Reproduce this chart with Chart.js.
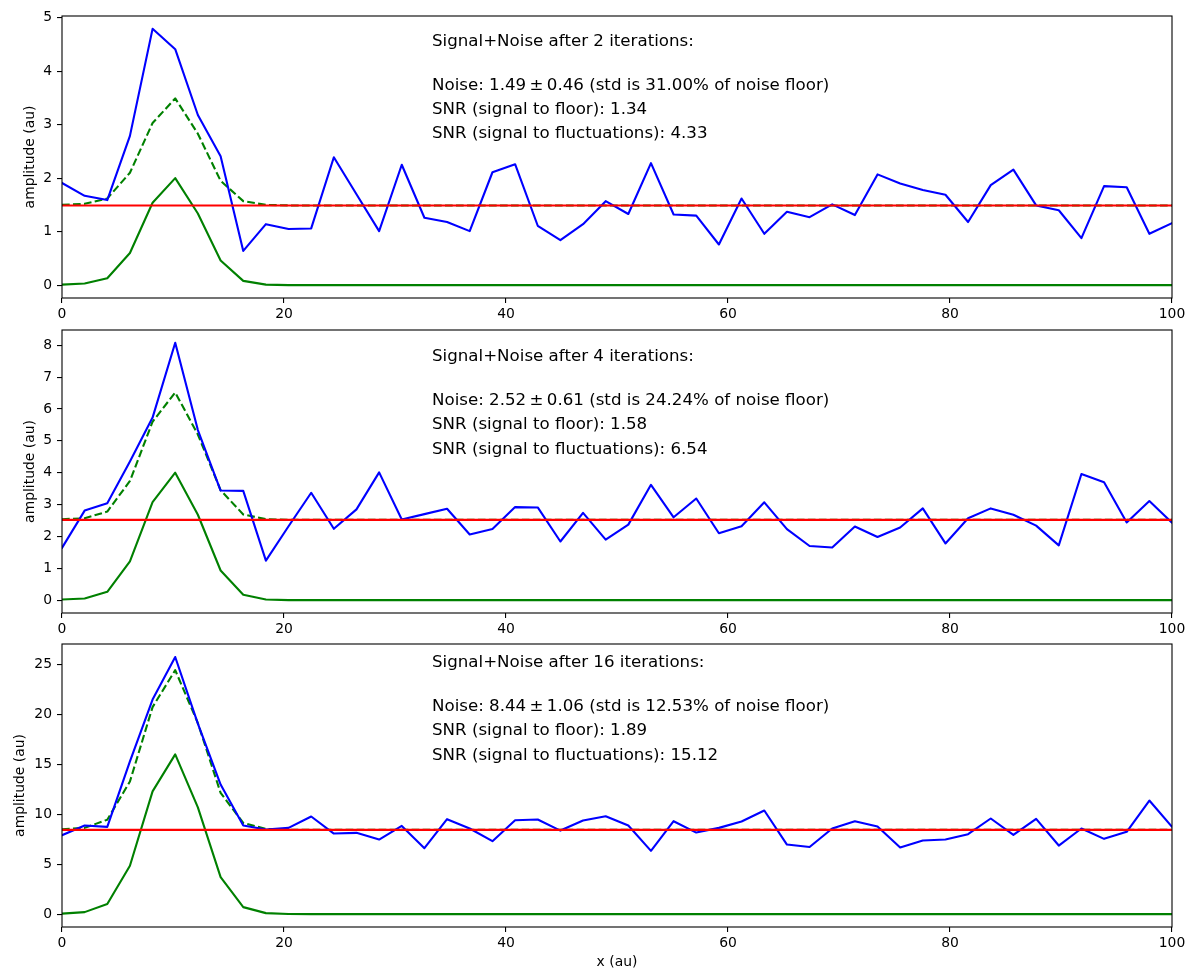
<!DOCTYPE html>
<html><head><meta charset="utf-8">
<script src="https://cdn.jsdelivr.net/npm/chart.js@4.4.1/dist/chart.umd.min.js"></script>
<style>
html,body{margin:0;padding:0;background:#fff;}
#wrap{position:relative;width:1200px;height:974px;overflow:hidden;background:#fff;}
canvas{position:absolute;left:0;}
</style></head><body>
<div id="wrap">
<canvas id="c1" style="top:0px"></canvas>
<canvas id="c2" style="top:320px"></canvas>
<canvas id="c3" style="top:640px"></canvas>
</div>
<script>
// ---------- DATA ----------
const xValues = [0, 2.04, 4.08, 6.12, 8.16, 10.20, 12.24, 14.29, 16.33, 18.37,
  20.41, 22.45, 24.49, 26.53, 28.57, 30.61, 32.65, 34.69, 36.73, 38.78,
  40.82, 42.86, 44.90, 46.94, 48.98, 51.02, 53.06, 55.10, 57.14, 59.18,
  61.22, 63.27, 65.31, 67.35, 69.39, 71.43, 73.47, 75.51, 77.55, 79.59,
  81.63, 83.67, 85.71, 87.76, 89.80, 91.84, 93.88, 95.92, 97.96, 100];
const xTicks = [0, 20, 40, 60, 80, 100];

// 2 iterations
const noise2 = [1.91, 1.67, 1.59, 2.79, 4.79, 4.41, 3.18, 2.41, 0.64, 1.14,
  1.05, 1.06, 2.39, 1.70, 1.01, 2.25, 1.26, 1.18, 1.01, 2.11,
  2.26, 1.11, 0.84, 1.14, 1.57, 1.33, 2.28, 1.32, 1.30, 0.76,
  1.62, 0.96, 1.37, 1.27, 1.51, 1.31, 2.07, 1.90, 1.78, 1.69,
  1.18, 1.87, 2.16, 1.49, 1.40, 0.88, 1.85, 1.83, 0.96, 1.16];
const signal2 = [0.01, 0.03, 0.13, 0.60, 1.54, 2.00, 1.34, 0.46, 0.08, 0.01,
  0, 0, 0, 0, 0, 0, 0, 0, 0, 0,
  0, 0, 0, 0, 0, 0, 0, 0, 0, 0,
  0, 0, 0, 0, 0, 0, 0, 0, 0, 0,
  0, 0, 0, 0, 0, 0, 0, 0, 0, 0];
const signalFloor2 = [1.50, 1.52, 1.62, 2.10, 3.03, 3.49, 2.83, 1.95, 1.57, 1.50,
  1.49, 1.49, 1.49, 1.49, 1.49, 1.49, 1.49, 1.49, 1.49, 1.49,
  1.49, 1.49, 1.49, 1.49, 1.49, 1.49, 1.49, 1.49, 1.49, 1.49,
  1.49, 1.49, 1.49, 1.49, 1.49, 1.49, 1.49, 1.49, 1.49, 1.49,
  1.49, 1.49, 1.49, 1.49, 1.49, 1.49, 1.49, 1.49, 1.49, 1.49];
const floor2 = 1.49;
const yTicks2 = [0, 1, 2, 3, 4, 5];
const yRange2 = [-0.24, 5.03];
const text2 = ['Signal+Noise after 2 iterations:',
  'Noise: 1.49\u2009\u00b1\u20090.46 (std is 31.00% of noise floor)',
  'SNR (signal to floor): 1.34',
  'SNR (signal to fluctuations): 4.33'];

// 4 iterations
const noise4 = [1.64, 2.81, 3.04, 4.35, 5.73, 8.08, 5.34, 3.44, 3.43, 1.24,
  2.32, 3.37, 2.24, 2.85, 4.01, 2.53, 2.70, 2.87, 2.06, 2.23,
  2.92, 2.91, 1.84, 2.74, 1.90, 2.37, 3.62, 2.60, 3.19, 2.10,
  2.32, 3.07, 2.23, 1.70, 1.65, 2.31, 1.98, 2.28, 2.88, 1.78,
  2.57, 2.88, 2.68, 2.34, 1.72, 3.96, 3.70, 2.44, 3.11, 2.43];
const signal4 = [0.02, 0.05, 0.26, 1.22, 3.08, 4.00, 2.68, 0.93, 0.17, 0.02,
  0, 0, 0, 0, 0, 0, 0, 0, 0, 0,
  0, 0, 0, 0, 0, 0, 0, 0, 0, 0,
  0, 0, 0, 0, 0, 0, 0, 0, 0, 0,
  0, 0, 0, 0, 0, 0, 0, 0, 0, 0];
const signalFloor4 = [2.54, 2.57, 2.78, 3.74, 5.60, 6.52, 5.20, 3.45, 2.69, 2.54,
  2.52, 2.52, 2.52, 2.52, 2.52, 2.52, 2.52, 2.52, 2.52, 2.52,
  2.52, 2.52, 2.52, 2.52, 2.52, 2.52, 2.52, 2.52, 2.52, 2.52,
  2.52, 2.52, 2.52, 2.52, 2.52, 2.52, 2.52, 2.52, 2.52, 2.52,
  2.52, 2.52, 2.52, 2.52, 2.52, 2.52, 2.52, 2.52, 2.52, 2.52];
const floor4 = 2.52;
const yTicks4 = [0, 1, 2, 3, 4, 5, 6, 7, 8];
const yRange4 = [-0.404, 8.48];
const text4 = ['Signal+Noise after 4 iterations:',
  'Noise: 2.52\u2009\u00b1\u20090.61 (std is 24.24% of noise floor)',
  'SNR (signal to floor): 1.58',
  'SNR (signal to fluctuations): 6.54'];

// 16 iterations
const noise16 = [7.91, 8.88, 8.74, 15.30, 21.49, 25.76, 19.09, 12.98, 8.88, 8.47,
  8.64, 9.78, 8.07, 8.14, 7.47, 8.84, 6.61, 9.51, 8.58, 7.31,
  9.41, 9.48, 8.37, 9.38, 9.81, 8.88, 6.34, 9.31, 8.17, 8.64,
  9.28, 10.38, 6.97, 6.72, 8.58, 9.31, 8.78, 6.67, 7.37, 7.47,
  8.01, 9.58, 7.94, 9.54, 6.87, 8.58, 7.54, 8.24, 11.38, 8.74];
const signal16 = [0.05, 0.20, 1.02, 4.85, 12.30, 16.00, 10.70, 3.70, 0.70, 0.10,
  0.01, 0, 0, 0, 0, 0, 0, 0, 0, 0,
  0, 0, 0, 0, 0, 0, 0, 0, 0, 0,
  0, 0, 0, 0, 0, 0, 0, 0, 0, 0,
  0, 0, 0, 0, 0, 0, 0, 0, 0, 0];
const signalFloor16 = [8.49, 8.64, 9.46, 13.29, 20.74, 24.44, 19.14, 12.14, 9.14, 8.54,
  8.45, 8.44, 8.44, 8.44, 8.44, 8.44, 8.44, 8.44, 8.44, 8.44,
  8.44, 8.44, 8.44, 8.44, 8.44, 8.44, 8.44, 8.44, 8.44, 8.44,
  8.44, 8.44, 8.44, 8.44, 8.44, 8.44, 8.44, 8.44, 8.44, 8.44,
  8.44, 8.44, 8.44, 8.44, 8.44, 8.44, 8.44, 8.44, 8.44, 8.44];
const floor16 = 8.44;
const yTicks16 = [0, 5, 10, 15, 20, 25];
const yRange16 = [-1.29, 27.06];
const text16 = ['Signal+Noise after 16 iterations:',
  'Noise: 8.44\u2009\u00b1\u20091.06 (std is 12.53% of noise floor)',
  'SNR (signal to floor): 1.89',
  'SNR (signal to fluctuations): 15.12'];

const yTitle = 'amplitude (au)';
const xTitle = 'x (au)';

// ---------- DRAWING ----------
Chart.defaults.font.family = '"DejaVu Sans", sans-serif';
Chart.defaults.font.size = 13.9;
Chart.defaults.color = '#000';

const framePlugin = {
  id: 'frameText',
  afterDatasetsDraw(chart, args, opts) {
    const ctx = chart.ctx, a = chart.chartArea;
    ctx.save();
    ctx.strokeStyle = '#000';
    ctx.lineWidth = 1.1;
    ctx.strokeRect(a.left, a.top, a.right - a.left, a.bottom - a.top);
    ctx.restore();
  },
  afterDraw(chart, args, opts) {
    const ctx = chart.ctx, a = chart.chartArea;
    ctx.save();
    ctx.fillStyle = '#000';
    ctx.font = '16.67px "DejaVu Sans", sans-serif';
    ctx.textAlign = 'left';
    ctx.textBaseline = 'middle';
    const x = a.left + (a.right - a.left) / 3;
    const offs = [0, 44.3, 68.4, 92.6];
    opts.lines.forEach((t, i) => ctx.fillText(t, x, a.top + opts.top + offs[i]));
    ctx.restore();
  }
};

function pts(ys) { return xValues.map((x, i) => ({x: x, y: ys[i]})); }

function makePanel(id, h, lay, noise, signal, signalFloor, floor, yTicks, yRange, lines, showXTitle) {
  const cv = document.getElementById(id);
  cv.width = 1200; cv.height = h;
  cv.style.width = '1200px'; cv.style.height = h + 'px';
  new Chart(cv, {
    type: 'line',
    data: {
      datasets: [
        {data: [{x: xValues[0], y: floor}, {x: xValues[xValues.length - 1], y: floor}],
         borderColor: '#ff0000', borderWidth: 2.1, order: 1},
        {data: pts(noise), borderColor: '#0000ff', borderWidth: 2.1, order: 2},
        {data: pts(signalFloor), borderColor: '#008000', borderWidth: 2.1,
         borderDash: [7.7, 3.3], borderCapStyle: 'butt', order: 3},
        {data: pts(signal), borderColor: '#008000', borderWidth: 2.1, order: 4}
      ]
    },
    options: {
      responsive: false,
      animation: false,
      devicePixelRatio: 1,
      layout: {padding: {left: 0, right: 28, top: lay.top, bottom: 0}},
      elements: {
        point: {radius: 0, hoverRadius: 0},
        line: {tension: 0, fill: false, borderJoinStyle: 'round', borderCapStyle: 'round'}
      },
      plugins: {
        legend: {display: false},
        tooltip: {enabled: false},
        frameText: {lines: lines, top: lay.textTop}
      },
      scales: {
        x: {
          type: 'linear', min: 0, max: 100,
          afterBuildTicks: (s) => { s.ticks = xTicks.map(v => ({value: v})); },
          afterFit: (s) => { s.height = lay.xh; s.paddingLeft = 0; s.paddingRight = 0; },
          ticks: {padding: 3, maxRotation: 0, autoSkip: false, color: '#000'},
          grid: {display: true, drawOnChartArea: false, drawTicks: true, tickLength: 5, color: '#000', lineWidth: 1.1},
          border: {display: false},
          title: {display: showXTitle, text: xTitle, color: '#000', font: {size: 13.9}, padding: {top: 0, bottom: lay.xTitlePad}}
        },
        y: {
          type: 'linear', min: yRange[0], max: yRange[1],
          afterBuildTicks: (s) => { s.ticks = yTicks.map(v => ({value: v})); },
          afterFit: (s) => { s.width = 62; s.paddingTop = 0; s.paddingBottom = 0; },
          ticks: {padding: 5, autoSkip: false, color: '#000'},
          grid: {display: true, drawOnChartArea: false, drawTicks: true, tickLength: 5, color: '#000', lineWidth: 1.1},
          border: {display: false},
          title: {display: true, text: yTitle, color: '#000', font: {size: 13.9}, padding: {top: lay.yTitlePad, bottom: 0}}
        }
      }
    },
    plugins: [framePlugin]
  });
}

makePanel('c1', 320, {top: 16, xh: 22, textTop: 25.5, yTitlePad: 21.7, xTitlePad: 0},
  noise2, signal2, signalFloor2, floor2, yTicks2, yRange2, text2, false);
makePanel('c2', 320, {top: 10, xh: 27, textTop: 26.7, yTitlePad: 21.7, xTitlePad: 0},
  noise4, signal4, signalFloor4, floor4, yTicks4, yRange4, text4, false);
makePanel('c3', 334, {top: 4, xh: 47, textTop: 18.7, yTitlePad: 12.4, xTitlePad: 3.7},
  noise16, signal16, signalFloor16, floor16, yTicks16, yRange16, text16, true);
</script>
</body></html>
